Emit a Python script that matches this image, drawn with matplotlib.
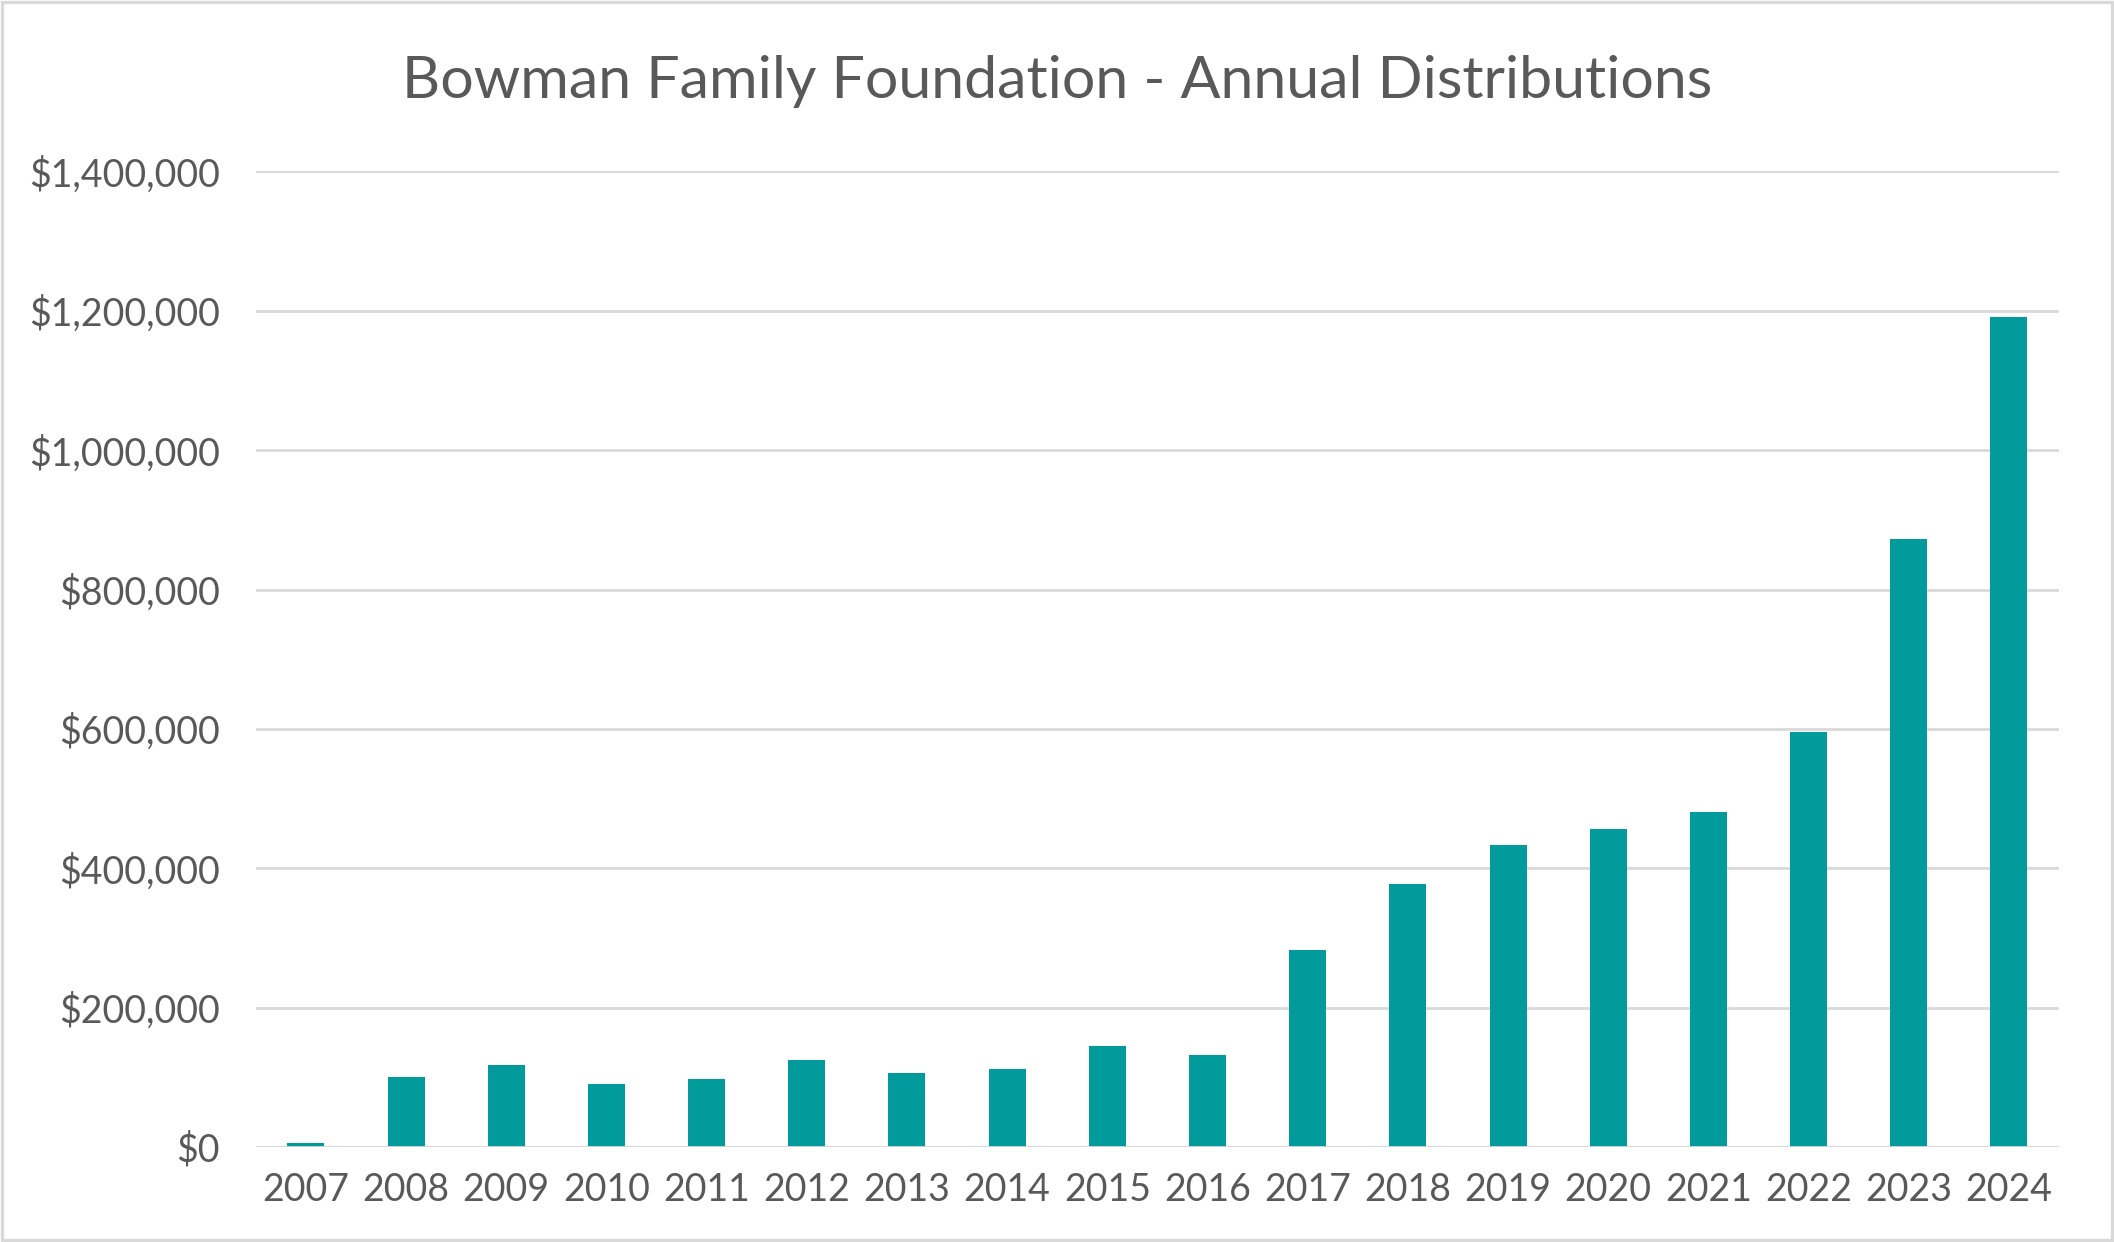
import numpy as np
import matplotlib.pyplot as plt
from matplotlib.ticker import FuncFormatter

# dados
years = [str(y) for y in range(2007, 2025)]
distributions = [5800, 100000, 117500, 90000, 97000, 125000, 106000, 112000, 145000,
                 132000, 282000, 378000, 434000, 456000, 480000, 595000, 872000, 1191000]
y_ticks = [0, 200000, 400000, 600000, 800000, 1000000, 1200000, 1400000]

bar_color = '#009B9A'
text_color = '#595959'
grid_color = '#D9D9D9'

plt.rcParams['font.family'] = ['Lato', 'DejaVu Sans']

fig = plt.figure(figsize=(10.57, 6.21), dpi=200)
ax = fig.add_axes([0.121, 0.0765, 0.853, 0.7855])

x = np.arange(len(years))
ax.bar(x, distributions, width=0.37, color=bar_color, zorder=2)
ax.axhline(0, color=grid_color, lw=1.0, zorder=3)

ax.set_xlim(-0.5, len(years) - 0.5)
ax.set_ylim(0, 1400000)
ax.set_xticks(x)
ax.set_xticklabels(years)
ax.set_yticks(y_ticks)
ax.yaxis.set_major_formatter(FuncFormatter(lambda v, p: '${:,.0f}'.format(v)))
ax.tick_params(axis='both', length=0, labelsize=13.5, labelcolor=text_color)
ax.tick_params(axis='x', pad=9)
ax.tick_params(axis='y', pad=13)
ax.grid(axis='y', color=grid_color, lw=1.0, zorder=0)
ax.set_axisbelow(True)
for s in ax.spines.values():
    s.set_visible(False)

fig.text(0.5, 0.934, 'Bowman Family Foundation - Annual Distributions',
         ha='center', va='center', fontsize=21.3, color=text_color)

# borda do gráfico
fig.patches.append(plt.Rectangle((0.001, 0.002), 0.998, 0.996, transform=fig.transFigure,
                                 fill=False, edgecolor=grid_color, lw=1.2))

fig.savefig('out.png', dpi=200)
